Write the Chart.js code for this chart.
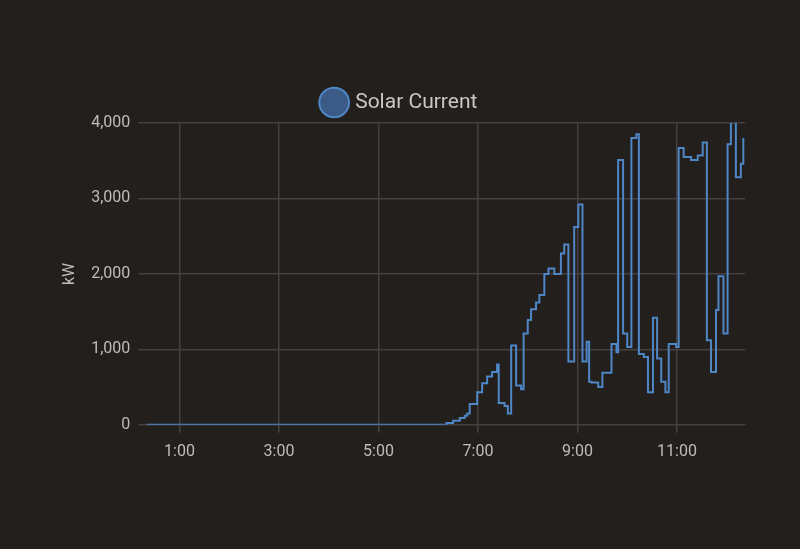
<!DOCTYPE html>
<html>
<head>
<meta charset="utf-8">
<script src="https://cdn.jsdelivr.net/npm/chart.js@4"></script>
<style>
  html, body { margin: 0; padding: 0; background: #221f1d; }
  #wrap { width: 800px; height: 549px; }
</style>
</head>
<body>
<div id="wrap"><canvas id="myChart"></canvas></div>
<script>
// time in minutes since midnight, value in kW
var times = [20, 373, 382, 390, 398, 404, 407, 410, 419, 425, 431, 437, 443, 445, 452, 456, 460, 466, 472, 475, 480, 484, 490, 494,
    500, 505, 512, 520, 524, 529, 536, 541, 546, 551, 554, 557, 565, 570, 578, 581, 587, 589, 595, 600,
    605, 611, 614, 620, 625, 631, 636, 641, 646, 650, 659, 662, 668, 677, 685, 691, 696, 701, 707, 710,
    716, 721, 725, 731, 737, 740];
var values = [0, 0, 25, 55, 90, 120, 150, 275, 430, 550, 640, 700, 800, 290, 250, 150, 1050, 520, 470, 1210, 1390, 1530, 1620, 1720,
    2000, 2070, 2000, 2270, 2390, 840, 2620, 2920, 840, 1100, 570, 560, 500, 690, 690, 1070, 960, 3510, 1210, 1030,
    3800, 3850, 940, 900, 430, 1420, 880, 570, 430, 1070, 1030, 3670, 3550, 3510, 3570, 3740, 1120, 700, 1520, 1970,
    1210, 3720, 4010, 3280, 3460, 3800];
var tickHours = [1, 3, 5, 7, 9, 11];
var seriesName = "Solar Current";

var points = [];
for (var i = 0; i < times.length; i++) {
    points.push({ x: times[i], y: values[i] });
}

new Chart(document.getElementById("myChart"), {
    type: "line",
    data: {
        datasets: [
            {
                label: seriesName,
                data: points,
                stepped: true,
                borderColor: "#4f86c6",
                backgroundColor: "#3b5a85",
                borderWidth: 2,
                pointRadius: 0,
                fill: false,
            },
        ],
    },
    options: {
        responsive: true,
        maintainAspectRatio: false,
        animation: false,
        layout: {
            padding: { left: 56, right: 55, top: 74, bottom: 77 },
        },
        plugins: {
            legend: {
                labels: {
                    usePointStyle: true,
                    pointStyle: "circle",
                    boxWidth: 28,
                    boxHeight: 28,
                    color: "#c8c8c8",
                    font: { family: "Roboto", size: 21 },
                    padding: 18,
                },
            },
            tooltip: { enabled: false },
        },
        scales: {
            x: {
                type: "linear",
                min: 20,
                max: 742,
                afterBuildTicks: function (axis) {
                    axis.ticks = tickHours.map(function (h) { return { value: h * 60 }; });
                },
                ticks: {
                    color: "#bdbdbd",
                    font: { family: "Roboto", size: 16 },
                    padding: 10,
                    callback: function (v) { return Math.round(v / 60) + ":00"; },
                },
                grid: { color: "#444140", lineWidth: 1.5 },
                border: { color: "#444140" },
            },
            y: {
                min: 0,
                max: 4000,
                ticks: {
                    stepSize: 1000,
                    color: "#bdbdbd",
                    font: { family: "Roboto", size: 16 },
                    padding: 8,
                },
                title: {
                    display: true,
                    text: "kW",
                    color: "#bdbdbd",
                    font: { family: "Roboto", size: 16 },
                },
                grid: { color: "#444140", lineWidth: 1.5 },
                border: { display: false },
            },
        },
    },
});
</script>
</body>
</html>
